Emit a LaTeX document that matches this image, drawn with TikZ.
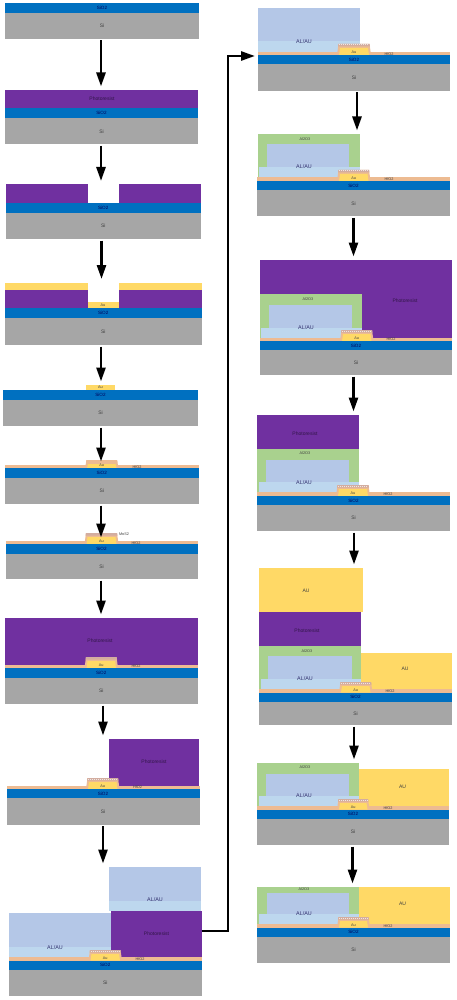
\documentclass[tikz,border=0pt]{standalone}
\usepackage{fontspec}
\setmainfont{Liberation Sans}
\usetikzlibrary{arrows.meta}
\definecolor{cSi}{HTML}{A6A6A6}
\definecolor{cOx}{HTML}{0070C0}
\definecolor{cPR}{HTML}{7030A0}
\definecolor{cAu}{HTML}{FFD966}
\definecolor{cHf}{HTML}{EDBB92}
\definecolor{cAl}{HTML}{B4C7E7}
\definecolor{cBand}{HTML}{BDD7EE}
\definecolor{cAO}{HTML}{A9D18E}
\definecolor{cMo}{HTML}{D3ADA0}
\tikzset{
  lay/.style={inner sep=0pt,outer sep=0pt,draw=none},
  lab/.style={inner sep=0pt,outer sep=0pt,font=\fontsize{5}{5}\selectfont,text=black!75},
  labs/.style={lab,font=\fontsize{3.8}{4}\selectfont},
  labOx/.style={lab,font=\fontsize{4.6}{5}\selectfont,text=blue!35!black},
  labPR/.style={lab,text=cPR!45!black},
  labAl/.style={lab,font=\fontsize{5.4}{5}\selectfont,text=blue!30!black!80},
  arr/.style={line width=2.6pt,draw=black,-{Triangle[length=14pt,width=9pt]}}
}
\newcount\lbln
\newcommand{\lay}[6]{%
  \pgfmathsetmacro\myw{#4-#2}\pgfmathsetmacro\myh{#5-#3}%
  \node[lay,fill=#6,minimum width=\myw pt,minimum height=\myh pt] (#1) at ({(#2+#4)/2},{(#3+#5)/2}) {};}
\newcommand{\lab}[4][lab]{%
  \global\advance\lbln by 1
  \node[#1] (t\the\lbln) at (#2,#3) {#4};}
% name x1 x2 yOx ySi ybot
\newcommand{\base}[6]{%
  \lay{#1ox}{#2}{#4}{#3}{#5}{cOx}\lay{#1si}{#2}{#5}{#3}{#6}{cSi}%
  \lab[labOx]{{(#2+#3)/2}}{{(#4+#5)/2}}{SiO2}%
  \lab{{(#2+#3)/2}}{{(#5+#6)/2}}{Si}}
% x1 x2 top bot moscolor checker
\newcommand{\bump}[6]{%
  \fill[cHf] (#1,#4) -- (#1+1.5,#3) -- (#2-1.5,#3) -- (#2,#4) -- cycle;
  \fill[cAu] (#1+2,#4) -- (#1+3,#3+4) -- (#2-3,#3+4) -- (#2-2,#4) -- cycle;
  \fill[#5] (#1+1,#3+2.5) -- (#1+1.5,#3) -- (#2-1.5,#3) -- (#2-1,#3+2.5) -- cycle;
  \ifnum#6=1 \draw[white,opacity=.7,line width=1pt,dash pattern=on 1pt off 1pt] (#1+2,#3+1) -- (#2-2,#3+1);\fi
  \lab[labs]{{(#1+#2)/2}}{#4-2.3}{Au}}
\newcommand{\arrow}[3]{%
  \coordinate (ax) at (#3,0);
  \draw[arr] ([yshift=-1.5pt]#1.south -| ax) -- ([yshift=3.5pt]#2.north -| ax);}
\begin{document}
\begin{tikzpicture}[x=1pt,y=-1pt]
\useasboundingbox (0,0) rectangle (456,1000);
\fill[white] (0,0) rectangle (456,1000);
% stage 1
\base{a}{5}{199}{3}{13}{39}
% stage 2
\lay{btop}{5}{90}{198}{108}{cPR}
\base{b}{5}{198}{108}{118}{144.5}
\lab[labPR]{102}{98.5}{Photoresist}
% stage 3
\lay{ctop}{6}{184.5}{87.5}{203}{cPR}
\lay{ctop2}{119}{184.5}{200.5}{203}{cPR}
\base{c}{6}{200.5}{203}{213}{239}
% stage 4
\lay{dtop}{5}{282.5}{88}{289.5}{cAu}
\lay{dtop2}{118.5}{282.5}{201.5}{289.5}{cAu}
\lay{dpr}{5}{289.5}{88}{308}{cPR}
\lay{dpr2}{118.5}{289.5}{201.5}{308}{cPR}
\lay{dau}{88}{302}{118.5}{308}{cAu}
\base{d}{5}{201.5}{308}{318}{345}
\lab[labs]{103}{305.5}{Au}
% stage 5
\lay{etop}{86}{385}{115}{390}{cAu}
\base{e}{3}{198}{390}{400}{426}
\lab[labs]{100.5}{387.5}{Au}
% stage 6
\lay{fhf}{5}{465}{198.5}{468}{cHf}
\bump{85}{118.5}{460}{468}{cHf}{0}
\base{f}{5}{198.5}{468}{478}{504}
\lab[labs]{137}{467}{HfO2}
% stage 7
\lay{ghf}{5.5}{541}{197.5}{544}{cHf}
\bump{84.5}{118.5}{533}{544}{cMo}{0}
\base{g}{5.5}{197.5}{544}{554}{579}
\lab[labs]{124}{534}{MoS2}
\lab[labs]{136}{543}{HfO2}
% stage 8
\lay{hpr}{4.5}{618}{198}{665}{cPR}
\lay{hhf}{4.5}{665}{198}{668}{cHf}
\bump{84.5}{118}{657}{668}{cMo}{0}
\base{h}{4.5}{198}{668}{678}{704}
\lab[labPR]{100}{640.5}{Photoresist}
\lab[labs]{136}{666}{HfO2}
% stage 9
\lay{ipr}{108.5}{739}{199}{785.5}{cPR}
\lay{ihf}{6.5}{785.5}{199.5}{789}{cHf}
\bump{86}{119.5}{778}{789}{cMo}{1}
\base{i}{6.5}{199.5}{789}{798}{824.5}
\lab[labPR]{154}{762}{Photoresist}
\lab[labs]{137.5}{787.5}{HfO2}
% stage 10
\lay{jtop}{109}{867}{201}{901}{cAl}
\lay{jband}{109}{901}{201}{911}{cBand}
\lay{jpr}{111}{911}{201.5}{957}{cPR}
\lay{jal}{9}{913}{110.5}{947}{cAl}
\lay{jband2}{9}{947}{110.5}{957}{cBand}
\lay{jhf}{9}{957}{201.5}{960.5}{cHf}
\bump{88.5}{122}{950}{960.5}{cMo}{1}
\base{j}{9}{201.5}{960.5}{970}{996}
\lab[labAl]{155}{900}{AL/AU}
\lab[labAl]{55}{947.5}{AL/AU}
\lab[labPR]{156.5}{934}{Photoresist}
\lab[labs]{140}{959.5}{HfO2}
% R1
\lay{ktop}{258}{8.5}{359.5}{41}{cAl}
\lay{kband}{258}{41}{359.5}{52}{cBand}
\lay{khf}{258}{52}{450}{55}{cHf}
\bump{337}{371}{44}{55}{cMo}{1}
\base{k}{258}{450}{55}{64}{91}
\lab[labAl]{304}{42}{AL/AU}
\lab[labs]{389}{54}{HfO2}
% R2
\lay{ltop}{258}{134}{359.5}{177.5}{cAO}
\lay{lal}{267}{144.5}{349}{167}{cAl}
\lay{lband}{259}{167}{359.5}{177.5}{cBand}
\lay{lhf}{257}{177.5}{450}{181}{cHf}
\bump{337}{370.5}{170}{181}{cMo}{1}
\base{l}{257}{450}{181}{190}{216.5}
\lab[labs]{305}{139}{Al2O3}
\lab[labAl]{304}{167}{AL/AU}
\lab[labs]{389}{179.5}{HfO2}
% R3
\lay{mtop}{260}{260}{452}{337.5}{cPR}
\lay{mao}{260}{294}{362}{337.5}{cAO}
\lay{mal}{269}{304.5}{352}{328}{cAl}
\lay{mband}{261}{328}{362}{337.5}{cBand}
\lay{mhf}{260}{337.5}{452}{341}{cHf}
\bump{340}{373.5}{330}{341}{cMo}{1}
\base{m}{260}{452}{341}{350}{375}
\lab[labPR]{405}{300.5}{Photoresist}
\lab[labs]{308}{299}{Al2O3}
\lab[labAl]{306}{328}{AL/AU}
\lab[labs]{391}{339.5}{HfO2}
% R4
\lay{ntop}{257}{415}{359}{449}{cPR}
\lay{nao}{257}{449}{359}{492}{cAO}
\lay{nal}{266}{459.5}{349}{482}{cAl}
\lay{nband}{259}{482}{359}{492}{cBand}
\lay{nhf}{257}{492}{450}{496}{cHf}
\bump{336}{370}{485}{496}{cMo}{1}
\base{n}{257}{450}{496}{505}{531}
\lab[labPR]{305}{433.5}{Photoresist}
\lab[labs]{305}{453.5}{Al2O3}
\lab[labAl]{304}{482.5}{AL/AU}
\lab[labs]{388}{494}{HfO2}
% R5
\lay{otop}{259}{568}{363}{611.5}{cAu}
\lay{opr}{259}{611.5}{361}{645.5}{cPR}
\lay{oao}{259}{645.5}{361}{689}{cAO}
\lay{oal}{268}{656}{352}{679}{cAl}
\lay{oband}{261}{679}{361}{689}{cBand}
\lay{oau}{361}{652.5}{452}{689}{cAu}
\lay{ohf}{259}{689}{452}{692.5}{cHf}
\bump{339}{372.5}{682}{692.5}{cMo}{1}
\base{o}{259}{452}{692.5}{702}{725}
\lab{306}{591}{AU}
\lab[labPR]{307}{631}{Photoresist}
\lab[labs]{307}{651}{Al2O3}
\lab[labAl]{305}{679}{AL/AU}
\lab{405}{669}{AU}
\lab[labs]{390}{691}{HfO2}
% R6
\lay{ptop}{257}{763}{359}{806}{cAO}
\lay{pal}{266}{773.5}{349}{796}{cAl}
\lay{pband}{259}{796}{359}{806}{cBand}
\lay{pau}{359}{769}{449}{806}{cAu}
\lay{phf}{257}{806}{449}{809.5}{cHf}
\bump{337}{369.5}{799}{809.5}{cMo}{1}
\base{p}{257}{449}{809.5}{819}{845}
\lab[labs]{305}{767.5}{Al2O3}
\lab[labAl]{304}{796}{AL/AU}
\lab{402.5}{786.5}{AU}
\lab[labs]{388}{808}{HfO2}
% R7
\lay{qtop}{257}{887}{359}{924}{cAO}
\lay{qal}{267}{893}{349}{914}{cAl}
\lay{qband}{259}{914}{359}{924}{cBand}
\lay{qau}{359}{887}{450}{924}{cAu}
\lay{qhf}{257}{924}{450}{927.5}{cHf}
\bump{337}{370}{917}{927.5}{cMo}{1}
\base{q}{257}{450}{927.5}{937}{963}
\lab[labs]{304}{889.5}{Al2O3}
\lab[labAl]{304}{914}{AL/AU}
\lab{402.5}{904}{AU}
\lab[labs]{388}{926}{HfO2}
% connectors
\arrow{asi}{btop}{101}
\arrow{bsi}{ctop}{101}
\arrow{csi}{dtop}{101.5}
\arrow{dsi}{etop}{101}
\arrow{esi}{fhf}{101}
\arrow{fsi}{ghf}{101}
\arrow{gsi}{hpr}{101}
\arrow{hsi}{ipr}{103}
\arrow{isi}{jtop}{103}
\arrow{ksi}{ltop}{357}
\arrow{lsi}{mtop}{353.5}
\arrow{msi}{ntop}{353.5}
\arrow{nsi}{otop}{354}
\arrow{osi}{ptop}{354}
\arrow{psi}{qtop}{352.5}
\coordinate (bus) at (228,500);
\draw[arr] ([yshift=3pt]jpr.east) -| (bus) |- ([xshift=-3pt,yshift=-2.5pt]khf.west);
\end{tikzpicture}
\end{document}
